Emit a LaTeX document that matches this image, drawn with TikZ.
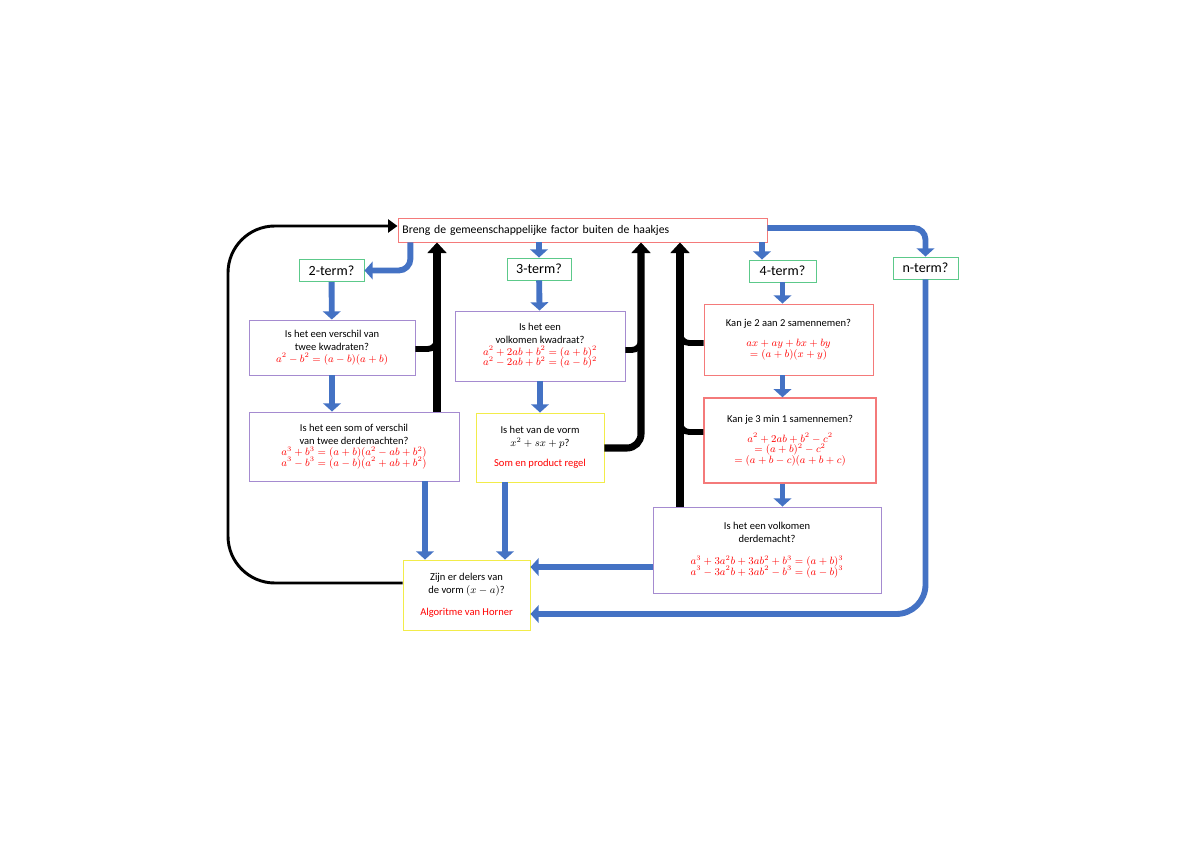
\documentclass[tikz,border=0pt]{standalone}
\usepackage{fontspec}
\setmainfont{Carlito}
\usetikzlibrary{arrows.meta}
\definecolor{flowblue}{HTML}{4472C4}
\definecolor{boxred}{HTML}{F47A7A}
\definecolor{boxgreen}{HTML}{5CC98A}
\definecolor{boxpurple}{HTML}{A58BD0}
\definecolor{boxyellow}{HTML}{F2EC4A}
\begin{document}
\begin{tikzpicture}[x = 0.03cm, y = -0.03cm, font = \small, every node/.style = {inner sep = 2pt, align = center}, termbox/.style = {draw = boxgreen, thick, minimum height = 0.66cm, font = \large}, askbox/.style = {draw = boxpurple, thick}, formbox/.style = {draw = boxyellow, thick}, tipbox/.style = {draw = boxred, thick}, blueflow/.style = {draw = flowblue, line width = 5pt, rounded corners = 10pt, -{Triangle[width = 15pt, length = 7pt]}}, backflow/.style = {draw = black, line width = 6pt, rounded corners = 12pt, -{Triangle[width = 16pt, length = 9pt]}}]
        \useasboundingbox (0,0) rectangle (1200,849);
        \node[draw = boxred, thick, minimum width = 11.07cm, minimum height = 0.72cm, text width = 10.8cm, align = left, font = \normalsize] (title) at (582.5,230) {Breng de gemeenschappelijke factor buiten de haakjes};
        \node[termbox, minimum width = 1.95cm] (t2) at (331.5,270.5) {2-term?};
        \node[termbox, minimum width = 1.92cm] (t3) at (539,269) {3-term?};
        \node[termbox, minimum width = 2.01cm] (t4) at (782.5,271) {4-term?};
        \node[termbox, minimum width = 1.95cm] (tn) at (925.5,268) {n-term?};
        % 2-term
        \node[askbox, minimum width = 4.98cm, minimum height = 1.65cm] (kwad) at (332,347.5) {Is het een verschil van\\twee kwadraten?\\[-1pt]\textcolor{red}{$a^2-b^2=(a-b)(a+b)$}};
        \node[askbox, minimum width = 6.3cm, minimum height = 2.07cm] (derde) at (354,446.5) {Is het een som of verschil\\van twee derdemachten?\\[-1pt]\textcolor{red}{$a^3+b^3=(a+b)(a^2-ab+b^2)$}\\[-2pt]\textcolor{red}{$a^3-b^3=(a-b)(a^2+ab+b^2)$}};
        % 3-term
        \node[askbox, minimum width = 5.1cm, minimum height = 2.1cm] (volk) at (540,346) {Is het een\\volkomen kwadraat?\\[-1pt]\textcolor{red}{$a^2+2ab+b^2=(a+b)^2$}\\[-2pt]\textcolor{red}{$a^2-2ab+b^2=(a-b)^2$}};
        \node[formbox, minimum width = 3.84cm, minimum height = 2.07cm] (vorm) at (540,447.5) {Is het van de vorm\\$x^2+sx+p$?\\[6pt]\textcolor{red}{Som en product regel}};
        % 4-term
        \node[tipbox, minimum width = 5.07cm, minimum height = 2.13cm] (twee) at (788.5,339.5) {Kan je 2 aan 2 samennemen?\\[6pt]\textcolor{red}{$ax+ay+bx+by$}\\[-2pt]\textcolor{red}{$=(a+b)(x+y)$}};
        \node[tipbox, line width = 1.2pt, minimum width = 5.16cm, minimum height = 2.55cm] (drie) at (790,440.5) {Kan je 3 min 1 samennemen?\\[6pt]\textcolor{red}{$a^2+2ab+b^2-c^2$}\\[-2pt]\textcolor{red}{$=(a+b)^2-c^2$}\\[-2pt]\textcolor{red}{$=(a+b-c)(a+b+c)$}};
        \node[askbox, minimum width = 6.84cm, minimum height = 2.58cm] (kubus) at (767,550) {Is het een volkomen\\derdemacht?\\[8pt]\textcolor{red}{$a^3+3a^2b+3ab^2+b^3=(a+b)^3$}\\[-2pt]\textcolor{red}{$a^3-3a^2b+3ab^2-b^3=(a-b)^3$}};
        % Horner
        \node[formbox, minimum width = 3.81cm, minimum height = 2.1cm] (horner) at (466.5,595) {Zijn er delers van\\de vorm $(x-a)$?\\[8pt]\textcolor{red}{Algoritme van Horner}};
        % blauwe pijlen
        \draw[blueflow] ([xshift = 11pt]title.south west) |- (t2.east);
        \draw[blueflow] (title.south -| t3) -- (t3);
        \draw[blueflow] (title.south -| 762,0) -- (t4.north -| 762,0);
        \draw[blueflow] (title.east |- 0,228) -| (tn);
        \draw[blueflow] (t2) -- (kwad);
        \draw[blueflow] (kwad) -- (kwad |- derde.north);
        \draw[blueflow] (t3) -- (volk);
        \draw[blueflow] (volk) -- (vorm);
        \draw[blueflow] (t4) -- (t4 |- twee.north);
        \draw[blueflow] (twee.south -| t4) -- (t4 |- drie.north);
        \draw[blueflow] (drie.south -| t4) -- (t4 |- kubus.north);
        \draw[blueflow] (derde.south -| 425,0) -- (horner.north -| 425,0);
        \draw[blueflow] (vorm.south -| 505,0) -- (horner.north -| 505,0);
        \draw[blueflow] (kubus.west |- 0,567) -- (horner.east |- 0,567);
        \draw[blueflow, rounded corners = 25pt] (tn) |- (horner.east |- 0,614);
        % zwarte pijlen terug
        \draw[backflow] (derde.north -| 437,0) -- (title.south -| 437,0);
        \draw[black, line width = 5pt, rounded corners = 8pt] (kwad.east |- 0,349) -| (437,320);
        \draw[backflow] (vorm.east |- 0,448) -| (641,242) -- (title.south -| 641,0);
        \draw[black, line width = 5pt, rounded corners = 8pt] (volk.east |- 0,350) -| (641,320);
        \draw[backflow] (kubus.north -| 680,0) -- (title.south -| 680,0);
        \draw[black, line width = 5pt, rounded corners = 8pt] (twee.west |- 0,343) -| (680,300);
        \draw[black, line width = 5pt, rounded corners = 8pt] (drie.west |- 0,432) -| (680,390);
        \draw[black, line width = 2.5pt, rounded corners = 40pt, -{Triangle[width = 11pt, length = 8pt]}] (horner.west |- 0,583) -| (228,226) -- (title.west |- 0,226);
\end{tikzpicture}
\end{document}
